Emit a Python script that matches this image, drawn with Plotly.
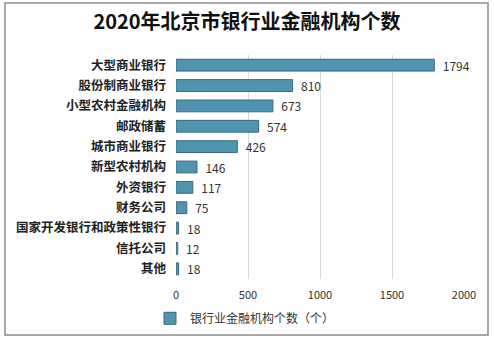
import plotly.graph_objects as go

categories = ["大型商业银行", "股份制商业银行", "小型农村金融机构", "邮政储蓄", "城市商业银行",
              "新型农村机构", "外资银行", "财务公司", "国家开发银行和政策性银行", "信托公司", "其他"]
values = [1794, 810, 673, 574, 426, 146, 117, 75, 18, 12, 18]
series_name = "银行业金融机构个数（个）"
x_ticks = [0, 500, 1000, 1500, 2000]

W, H = 494, 345
L, R, T, B = 176, 30, 55, 62
pw, ph = W - L - R, H - T - B

def px_x(p):
    return (p - L) / pw

def px_y(p):
    return (H - B - p) / ph

fig = go.Figure()
fig.add_trace(go.Bar(
    y=categories, x=values, orientation="h", name=series_name,
    marker=dict(color="#4f95b0", line=dict(color="#3b6a7c", width=1)),
    text=["  " + str(v) for v in values], textposition="outside", constraintext="none",
    textfont=dict(family="Noto Sans CJK SC", size=12, color="#333333"),
    cliponaxis=False, showlegend=True,
))
fig.update_layout(
    width=W, height=H,
    margin=dict(l=L, r=R, t=T, b=B),
    paper_bgcolor="white", plot_bgcolor="white",
    bargap=0.42,
    title=dict(text="<b>2020年北京市银行业金融机构个数</b>", x=0.5, xanchor="center",
               y=1 - 22 / H, yanchor="middle",
               font=dict(family="Noto Sans CJK SC", size=20, color="#111111")),
    xaxis=dict(range=[0, 2000], tickvals=x_ticks, showgrid=True, gridcolor="#d9d9d9",
               gridwidth=1, zeroline=False, showline=False,
               tickfont=dict(family="Noto Sans CJK SC", size=11, color="#333333"),
               ticklabelstandoff=8),
    yaxis=dict(autorange="reversed", showgrid=False, showline=False, zeroline=False,
               tickfont=dict(family="Noto Sans CJK SC", size=12.5, color="#222222"),
               ticklabelstandoff=9),
    legend=dict(orientation="h", x=px_x(150), xanchor="left", y=px_y(323), yanchor="middle",
                font=dict(family="Noto Sans CJK SC", size=12, color="#333333"),
                itemwidth=30),
    shapes=[dict(type="rect", xref="paper", yref="paper",
                 x0=px_x(5), x1=px_x(488), y0=px_y(340), y1=px_y(2),
                 line=dict(color="#8c8c8c", width=1.5), fillcolor="rgba(0,0,0,0)")],
)
fig.update_yaxes(tickprefix="<b>", ticksuffix="</b>")
fig.update_xaxes(tickprefix="<b>", ticksuffix="</b>")
fig.write_html("out.html")
